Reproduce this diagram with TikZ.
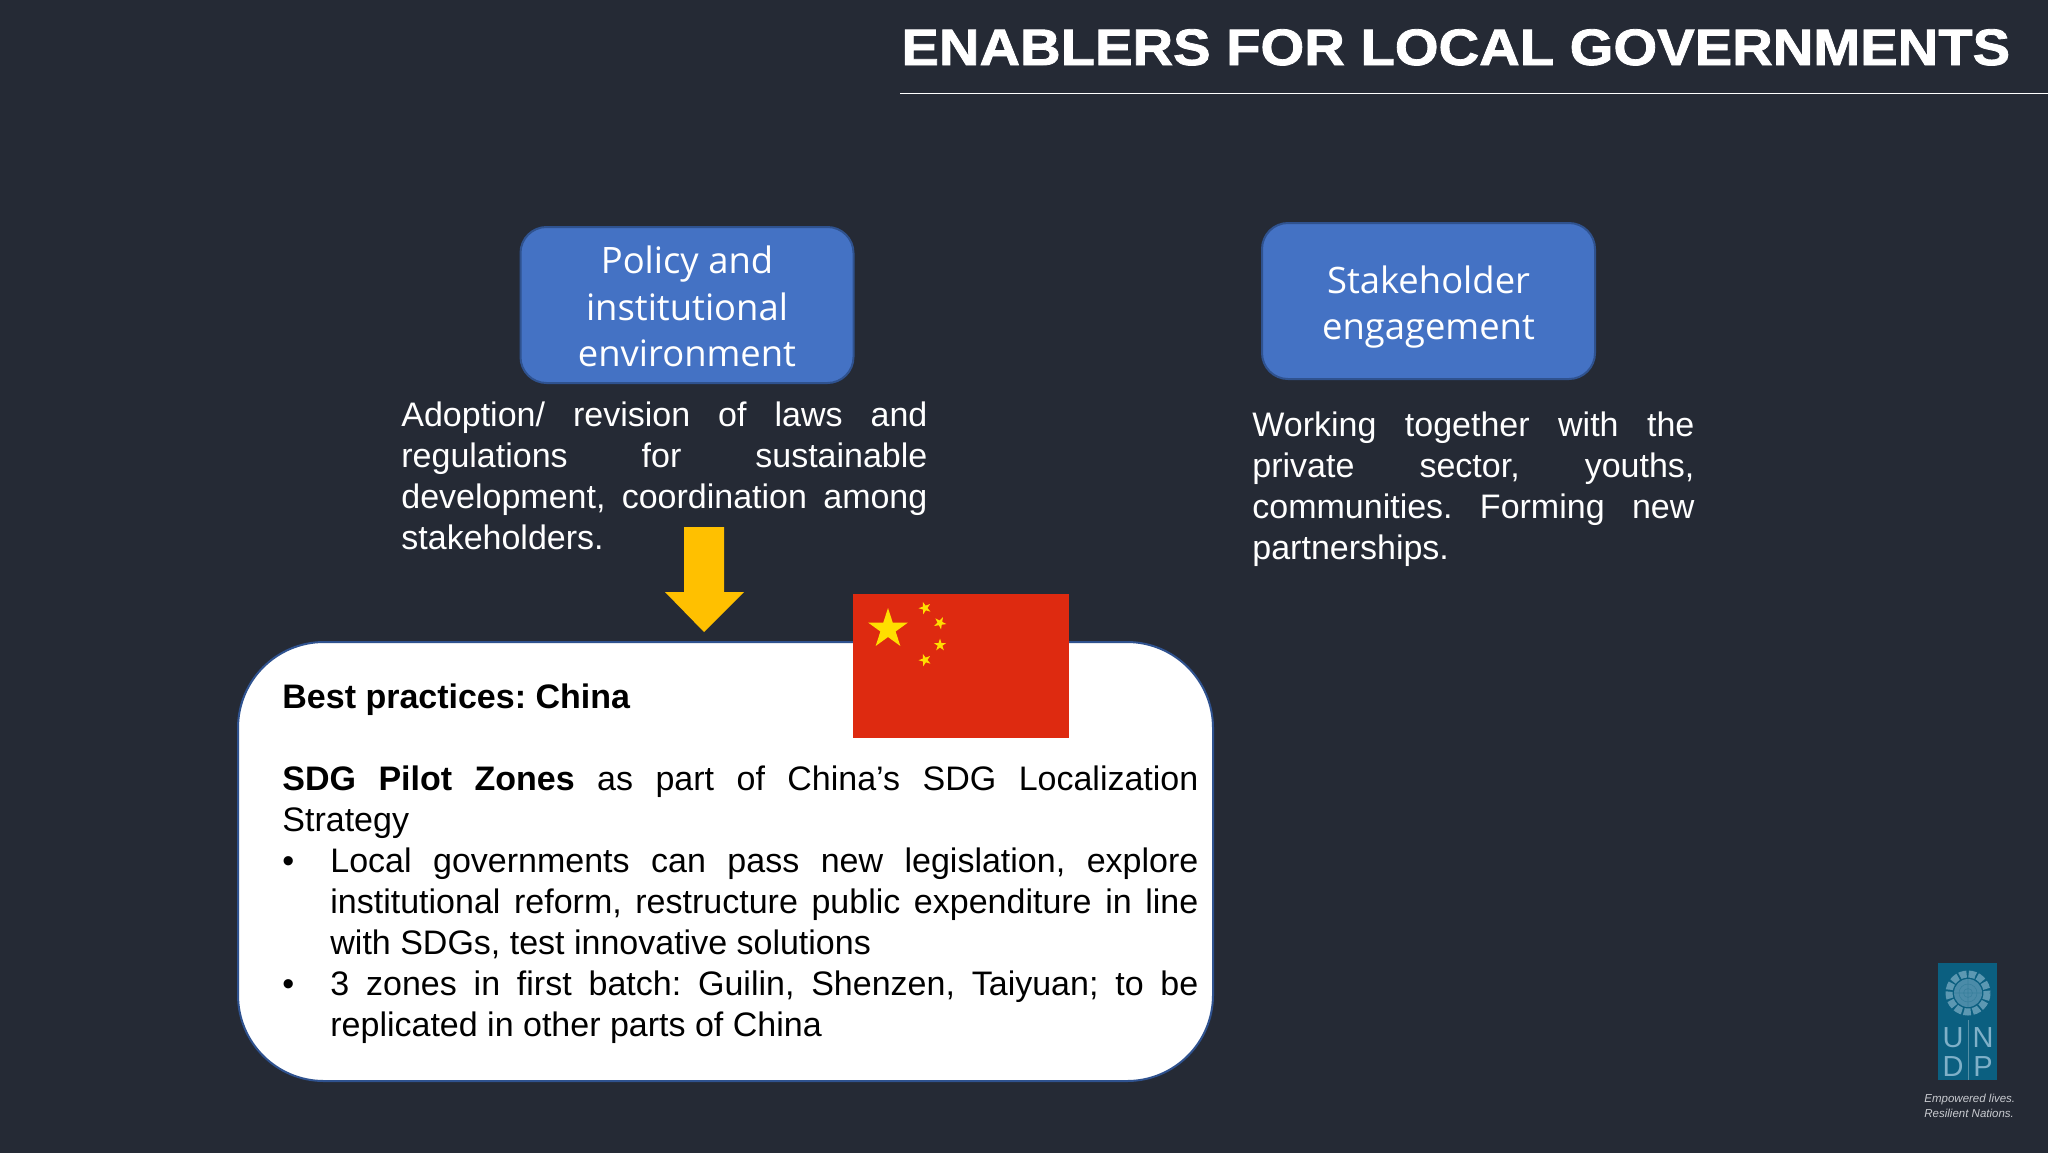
\documentclass[tikz,border=0pt]{standalone}
\usepackage{fontspec}
\setmainfont{Liberation Sans}
\newfontfamily\titlefont[BoldFeatures={FakeBold=1.6,FakeStretch=1.098}]{Liberation Sans}
\newfontfamily\boxfont{Open Sans}
\usetikzlibrary{shapes.geometric}
\definecolor{bgc}{HTML}{252A35}
\definecolor{boxblue}{HTML}{4472C4}
\definecolor{boxedge}{HTML}{2F528F}
\definecolor{flagred}{HTML}{DE2A10}
\definecolor{flagstar}{HTML}{FFDE00}
\definecolor{arrowy}{HTML}{FFC000}
\definecolor{logoblue}{HTML}{0B5F80}
\definecolor{logotext}{HTML}{7FB0C8}
\definecolor{tagc}{HTML}{C9CBD0}
\newcommand{\jl}[6][white]{\node[linetext,text=#1] (#2) at (#3,#4) {\hbox to #5pt{\frenchspacing\spaceskip=.278em plus 1fil\relax #6}};}
\newcommand{\pl}[5][white]{\node[linetext,text=#1] (#2) at (#3,#4) {\frenchspacing #5};}
\tikzset{
  x=0.5pt,y=-0.5pt,
  linetext/.style={anchor=base west,inner sep=0pt,font=\fontsize{17}{20.5}\selectfont},
  bluebox/.style={draw=boxedge,line width=1pt,fill=boxblue,rounded corners=13pt,inner sep=0pt,minimum width=166.5pt,minimum height=78pt},
  boxtext/.style={text=white,align=center,inner sep=0pt,font=\boxfont\fontsize{18.2}{23.2}\selectfont},
  lstar/.style={star,star points=5,star point ratio=2.618,fill=flagstar,inner sep=0pt},
  logoletter/.style={text=logotext,inner sep=0pt,font=\fontsize{14.5}{14.5}\selectfont},
  tagline/.style={text=tagc,inner sep=0pt,anchor=base west,font=\itshape\fontsize{5.75}{7}\selectfont},
}
\begin{document}
\begin{tikzpicture}
\useasboundingbox (0,0) rectangle (2048,1152);
\fill[bgc] (-4,-4) rectangle (2052,1156);
% title
\node[anchor=base west,inner sep=0pt,text=white,font=\titlefont\bfseries\fontsize{25.6}{30}\selectfont] (title) at (901,65) {ENABLERS FOR LOCAL GOVERNMENTS};
\coordinate (ruleL) at (900,93.5);
\coordinate (ruleR) at (2048,93.5);
\draw[white,line width=0.8pt] (ruleL) -- (ruleR);
% blue boxes
\node[bluebox] (policy) at (687,305) {};
\node[boxtext] (policyT) at (687,306.5) {Policy and\\institutional\\environment};
\node[bluebox] (stake) at (1428.5,301) {};
\node[boxtext] (stakeT) at (1428.5,307) {Stakeholder\\engagement};
% left text
\jl{a1}{401}{426}{263}{Adoption/ revision of laws and}
\jl{a2}{401}{467}{263}{regulations for sustainable}
\jl{a3}{401}{508}{263}{development, coordination among}
\pl{a4}{401}{549}{stakeholders.}
% right text
\jl{b1}{1252}{436}{221}{Working together with the}
\jl{b2}{1252}{477}{221}{private sector, youths,}
\jl{b3}{1252}{518}{221}{communities. Forming new}
\pl{b4}{1252}{559}{partnerships.}
% white box
\node[draw=boxedge,line width=1pt,fill=white,rounded corners=43pt,minimum width=487.5pt,minimum height=219.5pt,inner sep=0pt] (best) at (725.5,861.5) {};
% arrow
\fill[arrowy] (684,527) -- (724,527) -- (724,592) -- (744,592) -- (704,632) -- (665,592) -- (684,592) -- cycle;
% flag
\node[fill=flagred,minimum width=108pt,minimum height=72pt,inner sep=0pt] (flag) at (961,666) {};
\node[lstar,minimum size=21pt] (s0) at (888,629) {};
\node[lstar,minimum size=6.5pt,rotate=20] (s1) at (925,608) {};
\node[lstar,minimum size=6.5pt,rotate=45] (s2) at (940,623) {};
\node[lstar,minimum size=6.5pt] (s3) at (940,645) {};
\node[lstar,minimum size=6.5pt,rotate=20] (s4) at (925,660) {};
% best text
\pl[black]{c1}{282}{708}{\bfseries Best practices: China}
\jl[black]{c2}{282}{790}{458}{\textbf{SDG Pilot Zones} as part of China’s SDG Localization}
\pl[black]{c3}{282}{831}{Strategy}
\pl[black]{d1}{282}{872}{•}
\jl[black]{c4}{330}{872}{434}{Local governments can pass new legislation, explore}
\jl[black]{c5}{330}{913}{434}{institutional reform, restructure public expenditure in line}
\pl[black]{c6}{330}{954}{with SDGs, test innovative solutions}
\pl[black]{d2}{282}{995}{•}
\jl[black]{c7}{330}{995}{434}{3 zones in first batch: Guilin, Shenzen, Taiyuan; to be}
\pl[black]{c8}{330}{1036}{replicated in other parts of China}
% logo
\node[fill=logoblue,minimum width=29.5pt,minimum height=58.5pt,inner sep=0pt] (logo) at (1967.5,1021.5) {};
\draw[logotext!70!logoblue,line width=3.5pt,densely dotted] (1968,993) circle[radius=19];
\fill[logotext!55!logoblue] (1968,993) circle[radius=14];
\draw[logoblue!60!logotext,line width=0.3pt] (1968,993) circle[radius=9] (1968,993) circle[radius=4.5] (1954,993) -- (1982,993) (1968,979) -- (1968,1007);
\draw[logoblue!70!white,line width=0.4pt] (1968,1020) -- (1968,1080);
\node[logoletter] (lU) at (1953,1038) {U};
\node[logoletter] (lN) at (1983,1038) {N};
\node[logoletter] (lD) at (1953,1067) {D};
\node[logoletter] (lP) at (1983,1067) {P};
\node[tagline] (t1) at (1924,1102) {Empowered lives.};
\node[tagline] (t2) at (1924,1117) {Resilient Nations.};
\end{tikzpicture}
\end{document}
